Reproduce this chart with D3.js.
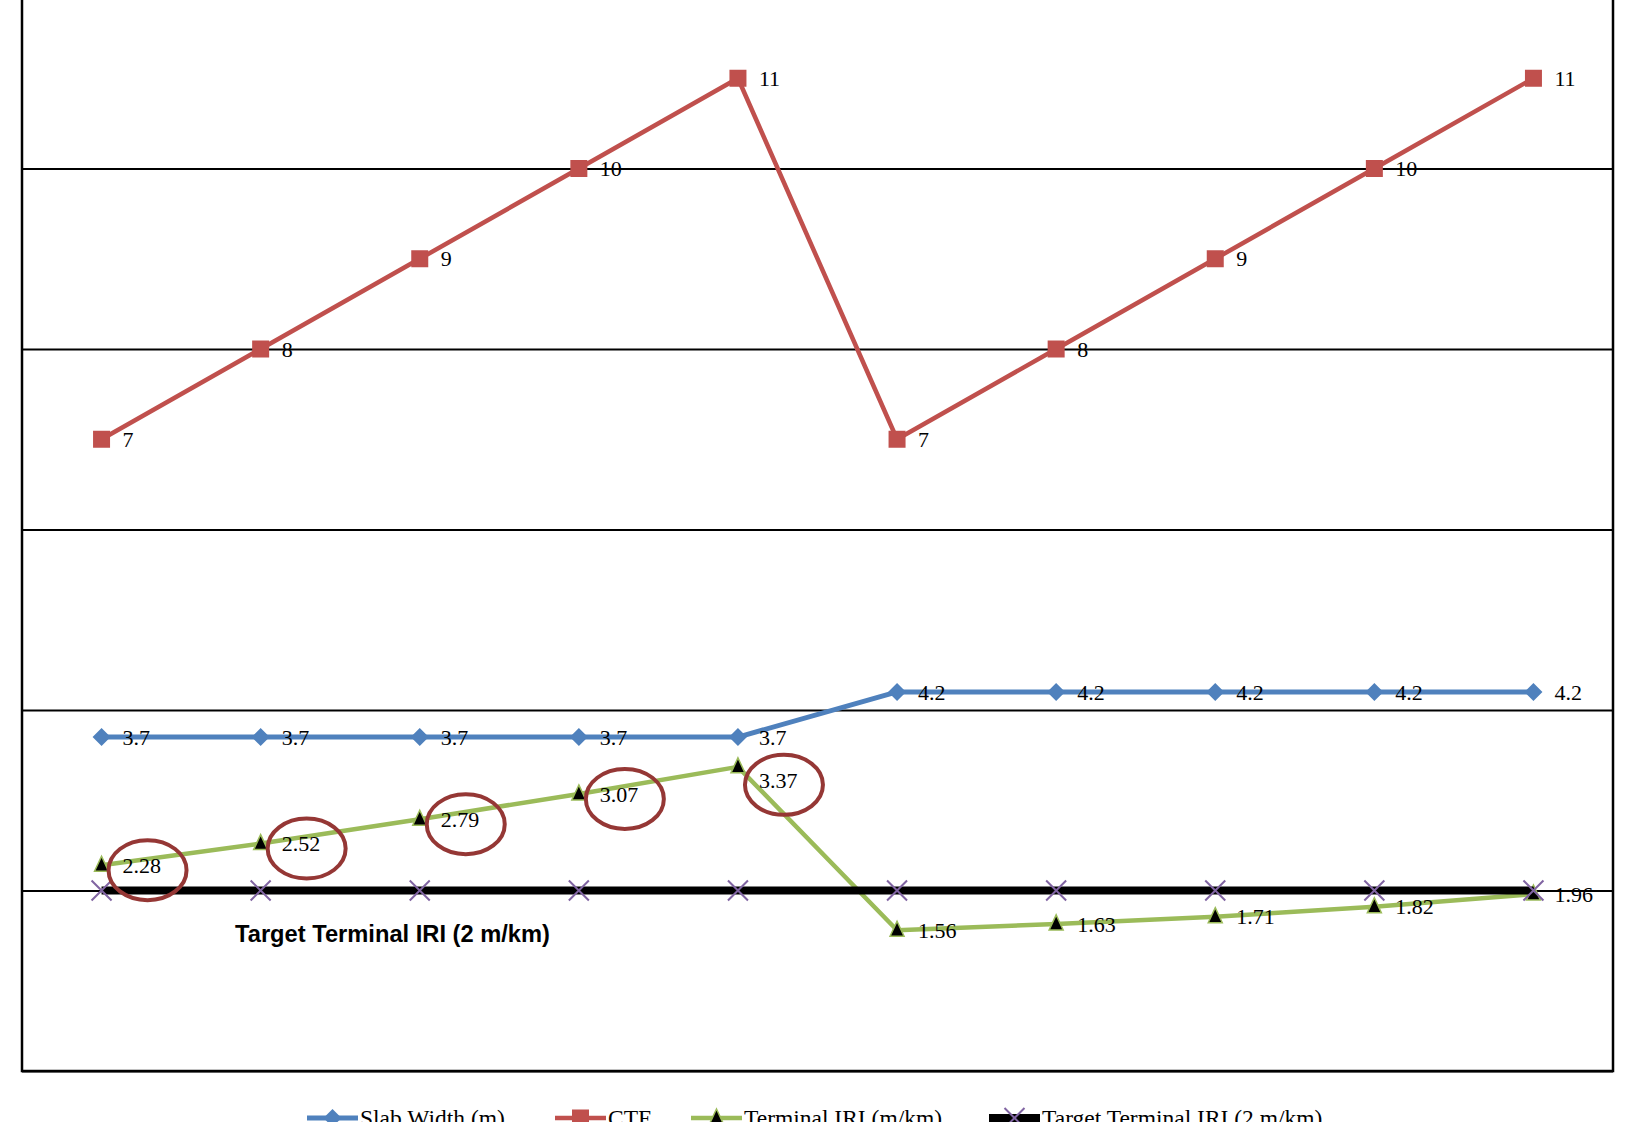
<!doctype html>
<html>
<head>
<style>
  body { margin: 0; background: #fff; }
  text { font-family: "Liberation Serif", "Times New Roman", serif; }
</style>
<script src="https://d3js.org/d3.v7.min.js"></script>
</head>
<body>
<svg width="1650" height="1122"></svg>
<script>
  // data
  var cases = ["1", "2", "3", "4", "5", "6", "7", "8", "9", "10"];
  var slabWidth = [3.7, 3.7, 3.7, 3.7, 3.7, 4.2, 4.2, 4.2, 4.2, 4.2];
  var cte = [7, 8, 9, 10, 11, 7, 8, 9, 10, 11];
  var terminalIRI = [2.28, 2.52, 2.79, 3.07, 3.37, 1.56, 1.63, 1.71, 1.82, 1.96];
  var targetIRI = [2, 2, 2, 2, 2, 2, 2, 2, 2, 2];
  var yTicks = [0, 2, 4, 6, 8, 10, 12];
  var circled = [0, 1, 2, 3, 4];   // Terminal IRI points marked with red ellipses

  var svg = d3.select("svg");

  // plot area (its top edge is cut off in the original picture)
  var plotLeft = 22, plotRight = 1613, plotTop = -12, plotBottom = 1071;

  var x = d3.scaleBand().domain(cases).range([plotLeft, plotRight]).padding(0);
  var y = d3.scaleLinear().domain([0, 12]).range([plotBottom, plotTop]);
  var cx = function(d, i) { return x(cases[i]) + x.bandwidth() / 2; };

  // grid
  svg.append("g")
     .attr("transform", "translate(" + plotLeft + ",0)")
     .call(d3.axisLeft(y).tickValues(yTicks).tickSize(-(plotRight - plotLeft)).tickFormat(""))
     .call(function(g) { g.select(".domain").remove(); })
     .selectAll("line")
     .attr("stroke", "#000")
     .attr("stroke-width", 2);

  svg.append("rect")
     .attr("x", plotLeft).attr("y", plotTop)
     .attr("width", plotRight - plotLeft).attr("height", plotBottom - plotTop)
     .attr("fill", "none").attr("stroke", "#000").attr("stroke-width", 2.5);

  var series = [
    { name: "Slab Width (m)", values: slabWidth, color: "#4F81BD", width: 5, marker: "diamond" },
    { name: "CTE", values: cte, color: "#C0504D", width: 4.5, marker: "square" },
    { name: "Terminal IRI (m/km)", values: terminalIRI, color: "#9BBB59", width: 4.5, marker: "triangle" },
    { name: "Target Terminal IRI (2 m/km)", values: targetIRI, color: "#000", width: 8, marker: "x" }
  ];

  function drawMarker(g, type, px, py) {
    if (type === "diamond") {
      g.append("path")
       .attr("d", "M" + px + "," + (py - 9) + "L" + (px + 9) + "," + py + "L" + px + "," + (py + 9) + "L" + (px - 9) + "," + py + "Z")
       .attr("fill", "#4F81BD");
    } else if (type === "square") {
      g.append("rect")
       .attr("x", px - 8.5).attr("y", py - 8.5).attr("width", 17).attr("height", 17)
       .attr("fill", "#C0504D");
    } else if (type === "triangle") {
      g.append("path")
       .attr("d", "M" + px + "," + (py - 9) + "L" + (px + 7) + "," + (py + 6) + "L" + (px - 7) + "," + (py + 6) + "Z")
       .attr("fill", "#000").attr("stroke", "#9BBB59").attr("stroke-width", 1.5);
    } else {
      g.append("path")
       .attr("d", "M" + (px - 10) + "," + (py - 10) + "L" + (px + 10) + "," + (py + 10) + "M" + (px + 10) + "," + (py - 10) + "L" + (px - 10) + "," + (py + 10))
       .attr("stroke", "#8064A2").attr("stroke-width", 2).attr("fill", "none");
    }
  }

  var line = d3.line()
      .x(function(d, i) { return cx(d, i); })
      .y(function(d) { return y(d); });

  series.forEach(function(s) {
    var g = svg.append("g");
    g.append("path")
     .datum(s.values)
     .attr("d", line)
     .attr("fill", "none")
     .attr("stroke", s.color)
     .attr("stroke-width", s.width)
     .attr("stroke-linejoin", "round");
    s.values.forEach(function(v, i) {
      drawMarker(g, s.marker, cx(v, i), y(v));
    });
  });

  // data labels (target series has none)
  function labelDy(s, i) {
    return (s.values === terminalIRI && i === 4) ? 13 : 0;
  }
  series.slice(0, 3).forEach(function(s) {
    svg.append("g").selectAll("text")
       .data(s.values)
       .enter().append("text")
       .attr("x", function(d, i) { return cx(d, i) + 21; })
       .attr("y", function(d, i) { return y(d) + labelDy(s, i); })
       .attr("dy", "0.35em")
       .attr("font-size", "22px")
       .attr("fill", "#000")
       .text(function(d) { return d; });
  });

  // red ellipses around Terminal IRI labels
  svg.append("g").selectAll("ellipse")
     .data(circled)
     .enter().append("ellipse")
     .attr("cx", function(i) { return cx(null, i) + 46; })
     .attr("cy", function(i) { return y(terminalIRI[i]) + labelDy(series[2], i) + 5; })
     .attr("rx", 39)
     .attr("ry", 30)
     .attr("fill", "none")
     .attr("stroke", "#953735")
     .attr("stroke-width", 4);

  // annotation under target line
  svg.append("text")
     .attr("x", 235)
     .attr("y", 942)
     .attr("font-weight", "bold")
     .attr("font-size", "23px")
     .attr("textLength", 315)
     .attr("lengthAdjust", "spacingAndGlyphs")
     .attr("fill", "#000")
     .style("font-family", "'Liberation Sans', sans-serif")
     .text("Target Terminal IRI (2 m/km)");

  // legend (partly cut off at bottom)
  var legendX = [307, 555, 691, 989];
  var legendY = 1118;
  series.forEach(function(s, i) {
    var g = svg.append("g");
    g.append("line")
     .attr("x1", legendX[i]).attr("x2", legendX[i] + 51)
     .attr("y1", legendY).attr("y2", legendY)
     .attr("stroke", s.color).attr("stroke-width", s.width);
    drawMarker(g, s.marker, legendX[i] + 25.5, legendY);
    g.append("text")
     .attr("x", legendX[i] + 53)
     .attr("y", legendY)
     .attr("dy", "0.35em")
     .attr("font-size", "23.5px")
     .attr("fill", "#000")
     .text(s.name);
  });
</script>
</body>
</html>
